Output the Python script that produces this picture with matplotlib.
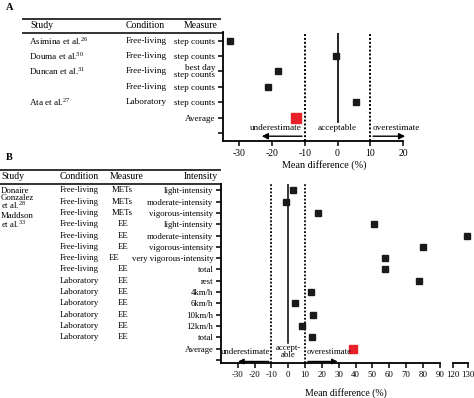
import numpy as np
import matplotlib
matplotlib.use('Agg')
import matplotlib.pyplot as plt
from matplotlib.transforms import blended_transform_factory

plt.rcParams['font.family'] = ['Liberation Serif', 'DejaVu Serif']
plt.rcParams['mathtext.fontset'] = 'custom'
plt.rcParams['mathtext.rm'] = 'Liberation Serif'
plt.rcParams['axes.unicode_minus'] = False

# ---- Panel A data ----
A_studies = ['Asimina et al.$^{\\mathrm{26}}$', 'Douma et al.$^{\\mathrm{30}}$',
             'Duncan et al.$^{\\mathrm{31}}$', '', 'Ata et al.$^{\\mathrm{27}}$']
A_conditions = ['Free-living', 'Free-living', 'Free-living', 'Free-living', 'Laboratory']
A_measures = ['step counts', 'step counts', 'best day\nstep counts', 'step counts', 'step counts']
A_values = [-33.0, -0.6, -18.2, -21.4, 5.7]
A_average = -12.7
A_xticks = [-30, -20, -10, 0, 10, 20]

# ---- Panel B data ----
B_studies = ['Donaire\nGonzalez\net al.$^{\\mathrm{28}}$', '', 'Maddson\net al.$^{\\mathrm{33}}$']
B_conditions = ['Free-living'] * 8 + ['Laboratory'] * 6
B_measures = ['METs'] * 3 + ['EE'] * 11
B_intensity = ['light-intensity', 'moderate-intensity', 'vigorous-intensity',
               'light-intensity', 'moderate-intensity', 'vigorous-intensity',
               'very vigorous-intensity', 'total', 'rest', '4km/h', '6km/h',
               '10km/h', '12km/h', 'total']
B_values = [3.0, -1.5, 17.7, 50.8, 129.3, 80.1, 57.7, 57.7, 77.5, 13.5, 4.2, 14.7, 8.0, 13.9]
B_average = 38.3
B_xticks = [-30, -20, -10, 0, 10, 20, 30, 40, 50, 60, 70, 80, 90]
B_xticks2 = [120, 130]

W, H = 474, 398
fig = plt.figure(figsize=(W / 100, H / 100), dpi=100)

def box(l, t, r, b):
    return [l / W, 1 - b / H, (r - l) / W, (b - t) / H]

# overlay in pixel coordinates for the table part
tab = fig.add_axes([0, 0, 1, 1])
tab.set_xlim(0, W)
tab.set_ylim(H, 0)
tab.axis('off')

red = '#e8202a'
fsA = 6.6
fsB = 6.3

def style(ax, fs):
    for s in ['top', 'right']:
        ax.spines[s].set_visible(False)
    for s in ['left', 'bottom']:
        ax.spines[s].set_linewidth(1.3)
    ax.tick_params(direction='out', length=3.5, width=1.1, labelsize=fs, pad=2)

# ================= Panel A =================
axA = fig.add_axes(box(223, 32.5, 403, 141.3))
style(axA, fsA)
nA = len(A_values)
rowsA = np.arange(nA)
axA.set_xlim(-35, 20)
axA.set_ylim(6.53, -0.53)
axA.set_xticks(A_xticks)
axA.tick_params(axis='x', labelsize=7)
axA.set_yticks(list(range(nA + 2)))
axA.set_yticklabels(A_measures + ['Average', ''], linespacing=0.8)
axA.axvline(-10, color='k', lw=1.4, ls=(0, (1, 1)))
axA.axvline(10, color='k', lw=1.4, ls=(0, (1, 1)))
axA.plot([0, 0], [-0.53, 5.3], color='k', lw=1.2)
axA.plot(A_values, rowsA, 's', color='#1a1a1a', ms=4.3)
axA.plot([A_average], [nA], 's', color=red, ms=6.5)
axA.text(-18.8, 5.69, 'underestimate', ha='center', va='center', fontsize=fsA)
axA.text(0, 5.69, 'acceptable', ha='center', va='center', fontsize=fsA)
axA.text(18, 5.69, 'overestimate', ha='center', va='center', fontsize=fsA)
axA.annotate('', xy=(-24, 6.2), xytext=(-10, 6.2), annotation_clip=False,
             arrowprops=dict(arrowstyle='-|>', color='k', lw=1, mutation_scale=9))
axA.annotate('', xy=(21.5, 6.2), xytext=(10, 6.2), annotation_clip=False,
             arrowprops=dict(arrowstyle='-|>', color='k', lw=1, mutation_scale=9))
fig.text(324 / W, 1 - 165 / H, 'Mean difference (%)', ha='center', va='center', fontsize=7.3)

trA = blended_transform_factory(tab.transData, axA.transData)
for i in range(nA):
    tab.text(29, i, A_studies[i], transform=trA, ha='left', va='center', fontsize=fsA)
    tab.text(126, i, A_conditions[i], transform=trA, ha='left', va='center', fontsize=fsA)

tab.text(6, 7, 'A', ha='left', va='center', fontsize=7.5, fontweight='bold')
tab.plot([23, 220], [19, 19], color='#333333', lw=1.4)
tab.plot([23, 223], [32.8, 32.8], color='#333333', lw=1.4)
tab.text(30, 25.5, 'Study', ha='left', va='center', fontsize=7)
tab.text(126, 25.5, 'Condition', ha='left', va='center', fontsize=7)
tab.text(218, 25.5, 'Measure', ha='right', va='center', fontsize=7)

# ================= Panel B =================
axB = fig.add_axes(box(221, 184, 439.7, 363.3))
axB2 = fig.add_axes(box(453.3, 184, 467.7, 363.3))
style(axB, fsB)
style(axB2, fsB)
axB2.spines['left'].set_visible(False)
axB2.set_yticks([])
axB2.patch.set_alpha(0)
nB = len(B_values)
rowsB = np.arange(nB)
vals = np.array(B_values)
for ax in (axB, axB2):
    ax.set_ylim(15.3, -0.56)
axB.set_xlim(-40, 90)
axB2.set_xlim(120, 130)
axB.set_xticks(B_xticks)
axB2.set_xticks(B_xticks2)
axB.set_yticks(list(range(nB + 2)))
axB.set_yticklabels(B_intensity + ['Average', ''])
axB.axvline(-10, color='k', lw=1.3, ls=(0, (1, 1)))
axB.axvline(10, color='k', lw=1.3, ls=(0, (1, 1)))
axB.plot([0, 0], [-0.56, 13.5], color='k', lw=1.1)
low = vals <= 90
axB.plot(vals[low], rowsB[low], 's', color='#1a1a1a', ms=3.8)
axB2.plot(vals[~low], rowsB[~low], 's', color='#1a1a1a', ms=3.8, clip_on=False)
axB.plot([B_average], [nB], 's', color=red, ms=6.3)
axB.text(-11, 14.3, 'underestimate', ha='right', va='center', fontsize=fsB)
axB.text(0, 14.25, 'accept-\nable', ha='center', va='center', fontsize=fsB, linespacing=0.95)
axB.text(11, 14.3, 'overestimate', ha='left', va='center', fontsize=fsB)
axB.annotate('', xy=(-31.5, 15.14), xytext=(-10, 15.14), annotation_clip=False,
             arrowprops=dict(arrowstyle='-|>', color='k', lw=1, mutation_scale=8))
axB.annotate('', xy=(31, 15.14), xytext=(10, 15.14), annotation_clip=False,
             arrowprops=dict(arrowstyle='-|>', color='k', lw=1, mutation_scale=8))
fig.text(346 / W, 1 - 393 / H, 'Mean difference (%)', ha='center', va='center', fontsize=7)

trB = blended_transform_factory(tab.transData, axB.transData)
for i, s in enumerate(B_studies):
    if s:
        off = 0.32 if i == 0 else 0.1
        tab.text(1, i - off, s, transform=trB, ha='left', va='top', fontsize=fsB, linespacing=0.8)
for i in range(nB):
    tab.text(60, i, B_conditions[i], transform=trB, ha='left', va='center', fontsize=fsB)
    mx = 109 if B_intensity[i].startswith('very') else (112 if B_measures[i] == 'METs' else 118)
    tab.text(mx, i, B_measures[i], transform=trB, ha='left', va='center', fontsize=fsB)

tab.text(6, 157.5, 'B', ha='left', va='center', fontsize=7.5, fontweight='bold')
tab.plot([0, 220], [169.5, 169.5], color='#333333', lw=1.4)
tab.plot([0, 221], [184, 184], color='#333333', lw=1.4)
tab.text(1, 176.8, 'Study', ha='left', va='center', fontsize=7)
tab.text(60, 176.8, 'Condition', ha='left', va='center', fontsize=7)
tab.text(110, 176.8, 'Measure', ha='left', va='center', fontsize=7)
tab.text(218, 176.8, 'Intensity', ha='right', va='center', fontsize=7)

plt.savefig('out.png', dpi=100)
